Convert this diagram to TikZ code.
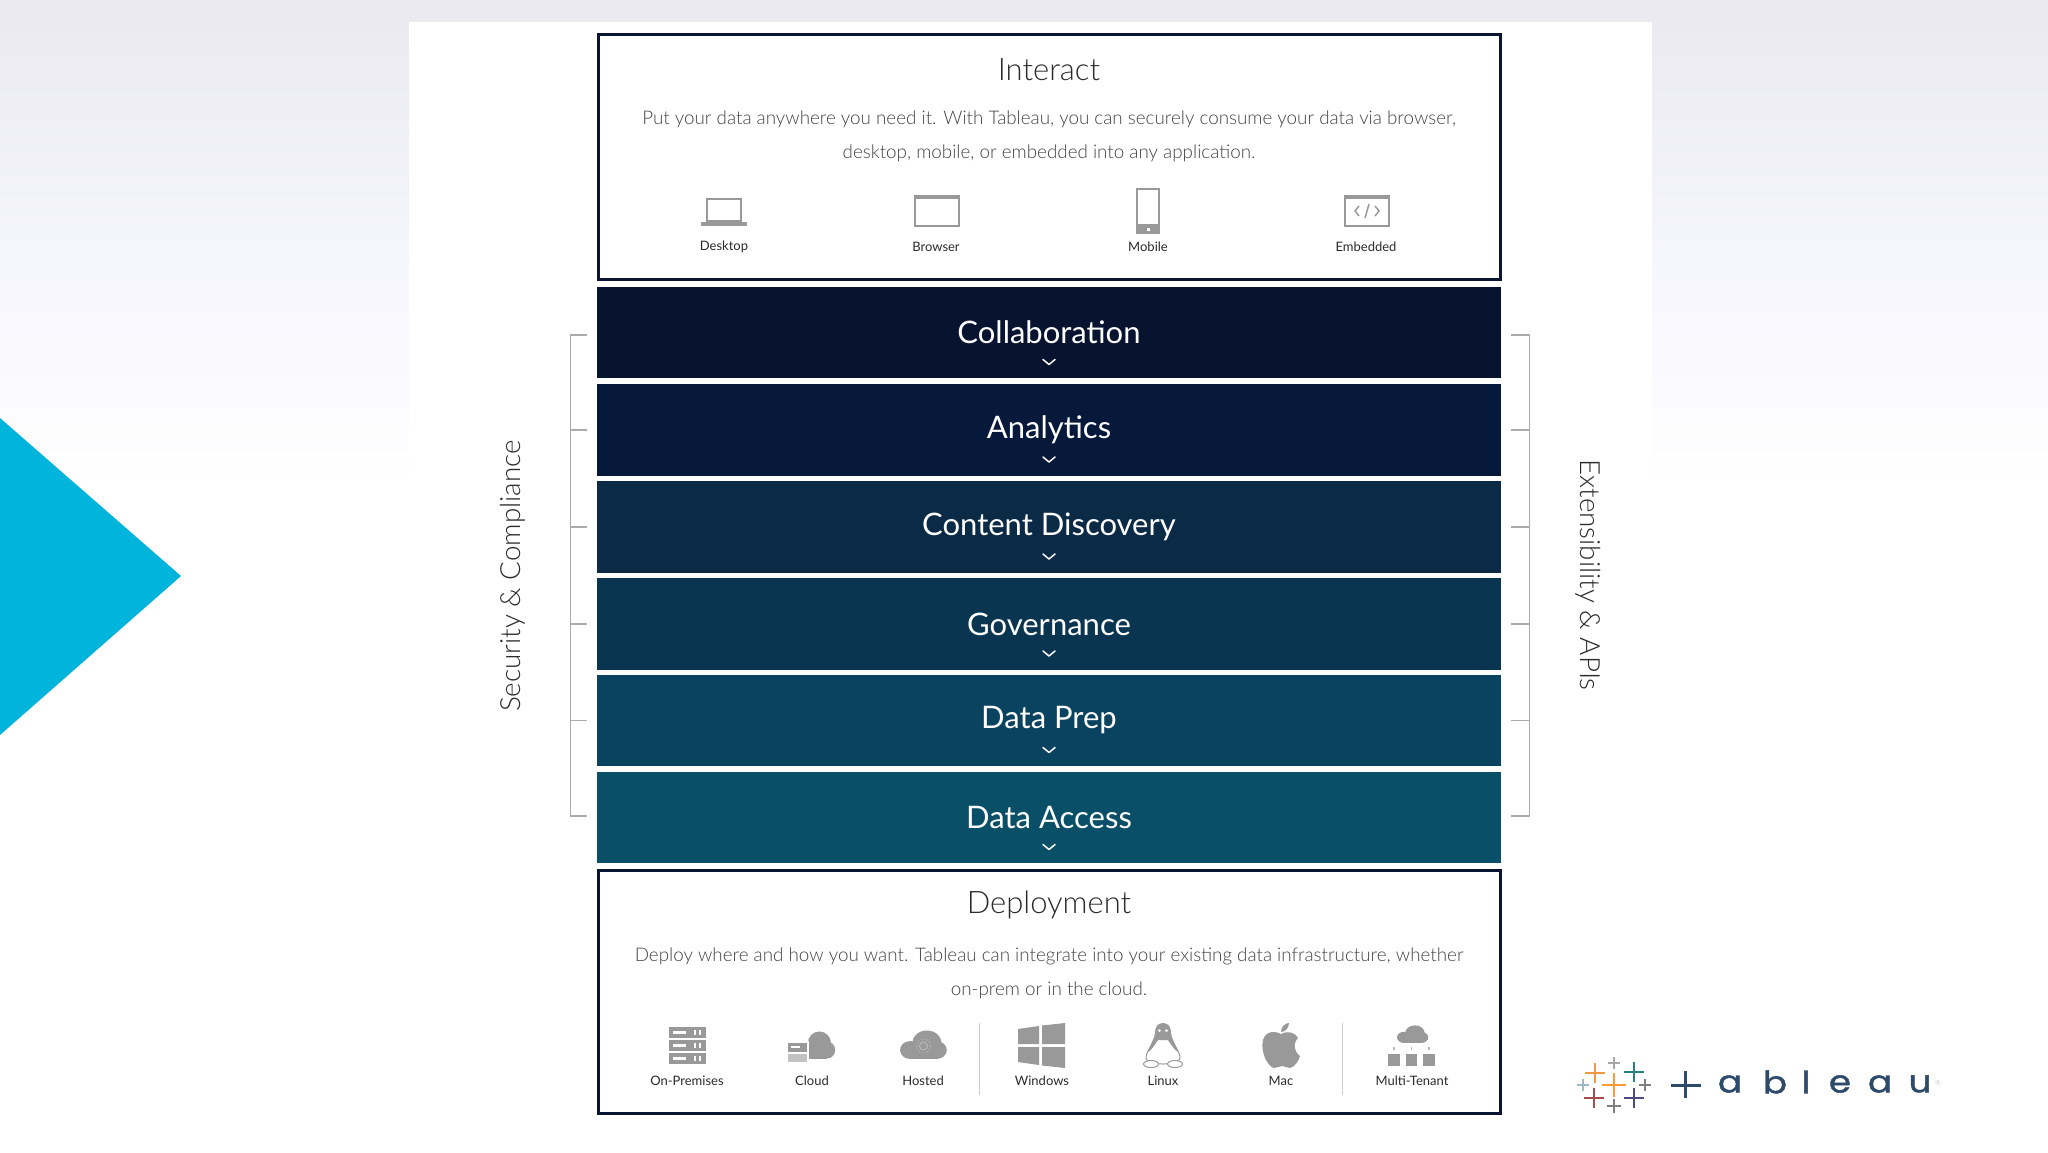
\documentclass[tikz,border=0pt]{standalone}
\usepackage{fontspec}
\setmainfont{Lato}[UprightFont=* Light]
\newfontfamily\latoreg{Lato}
\newfontfamily\logofont{Poppins}[FakeBold=1.2]
\usetikzlibrary{calc}
\definecolor{bgtop}{HTML}{E9E9EF}
\definecolor{bgmid}{HTML}{F6F6FD}
\definecolor{frame}{HTML}{0A1533}
\definecolor{icon}{HTML}{999999}
\definecolor{brk}{HTML}{ABABAB}
\definecolor{ink}{HTML}{2B2B2B}
\definecolor{para}{HTML}{444444}
\definecolor{cyanT}{HTML}{00B4DC}
\definecolor{logoink}{HTML}{2E4A6B}
\definecolor{cA}{HTML}{07132F}
\definecolor{cB}{HTML}{07193B}
\definecolor{cC}{HTML}{0A2A46}
\definecolor{cD}{HTML}{0A3550}
\definecolor{cE}{HTML}{0A435F}
\definecolor{cF}{HTML}{0A4F68}
\newcommand{\fs}[1]{\fontsize{#1}{#1}\selectfont}
\tikzset{
  x=1pt,y=-1pt,
  panelbox/.style={draw=frame,line width=3pt,fill=white,minimum width=902pt,inner sep=0pt},
  barbox/.style={minimum width=904pt,minimum height=91.5pt,inner sep=0pt,text=white,font={\latoreg\fs{31}}},
  chev/.style={draw=white,line width=1.5pt,line cap=round,line join=round},
  brack/.style={draw=brk,line width=1.2pt},
  paneltitle/.style={text=ink,font=\fs{31},inner sep=0pt},
  paragraph/.style={text=para,font=\fs{18.8},inner sep=0pt},
  iconlabel/.style={text=ink,font={\latoreg\fs{13}},inner sep=0pt},
  sidelabel/.style={text=ink,font=\fs{27.8},inner sep=0pt},
  ico/.style={draw=icon,line width=1.6pt,fill=white},
  logoletter/.style={text=logoink,inner sep=0pt,font={\logofont\fs{31}},xscale=1.15},
}
\newcommand{\cloudshape}{%
  \fill[icon] (23,13) circle (12.5);
  \fill[icon] (9,20) circle (9);
  \fill[icon] (31,20) circle (9);
  \fill[icon] (9,18) rectangle (31,29);
}
\newcommand{\plusmark}[4]{% x y half colour
  \draw[#4,line width=2.6pt] (#1-#3,#2) -- (#1+#3,#2) (#1,#2-#3) -- (#1,#2+#3);
}
\begin{document}
\begin{tikzpicture}
\useasboundingbox (0,0) rectangle (2048,1152);
% background
\fill[white] (0,0) rectangle (2048,1152);
\fill[top color=bgtop,bottom color=bgmid] (0,0) rectangle (2048,270);
\fill[top color=bgmid,bottom color=white] (0,270) rectangle (2048,490);
\fill[white] (409,22) rectangle (1652,1152);
\fill[cyanT] (0,418) -- (181,576) -- (0,735) -- cycle;

% interact
\node[panelbox,minimum height=245pt] (interact) at (1049,157) {};
\node[paneltitle] (interactT) at (1049,70) {Interact};
\node[paragraph] (interactP1) at (1049,119.5) {Put your data anywhere you need it. With Tableau, you can securely consume your data via browser,};
\node[paragraph] (interactP2) at (1049,153.5) {desktop, mobile, or embedded into any application.};
\node[iconlabel] (desktop) at (724,247) {Desktop};
\node[iconlabel] (browser) at (936,247) {Browser};
\node[iconlabel] (mobile) at (1148,247) {Mobile};
\node[iconlabel] (embedded) at (1366,247) {Embedded};
% desktop icon
\draw[ico] (707,199) rectangle (741,221);
\fill[icon] (701,222) rectangle (747,225.5);
% browser icon
\draw[ico] (915,196) rectangle (959,226);
\fill[icon] (914,195) rectangle (960,199);
% mobile icon
\draw[ico] (1137,189) rectangle (1159,233);
\fill[icon] (1136,224) rectangle (1160,234);
\fill[white] (1146.5,227.5) rectangle (1149.5,230.5);
% embedded icon
\draw[ico] (1345,196) rectangle (1389,226);
\fill[icon] (1344,195) rectangle (1390,199);
\draw[icon,line width=1.5pt] (1359,206) -- (1355,211) -- (1359,216) (1369,204) -- (1365,218) (1375,206) -- (1379,211) -- (1375,216);

% bars
\node[barbox,fill=cA] (collab) at (1049,332.5) {Collaboration};
\node[barbox,fill=cB] (analytics) at (1049,430) {Analytics};
\node[barbox,fill=cC] (content) at (1049,527) {Content Discovery};
\node[barbox,fill=cD] (gov) at (1049,624) {Governance};
\node[barbox,fill=cE] (prep) at (1049,720.5) {Data Prep};
\node[barbox,fill=cF] (access) at (1049,817.5) {Data Access};
\foreach \b in {collab,analytics,content,gov,prep,access}{
  \draw[chev] ([xshift=-6pt,yshift=-27pt]\b.center) -- ([yshift=-32pt]\b.center) -- ([xshift=6pt,yshift=-27pt]\b.center);
}

% brackets
\draw[brack] ([xshift=-10pt,yshift=-2.5pt]collab.west) -- ([xshift=-26pt,yshift=-2.5pt]collab.west) -- ([xshift=-26pt,yshift=1.5pt]access.west) -- ([xshift=-10pt,yshift=1.5pt]access.west);
\draw[brack] ([xshift=10pt,yshift=-2.5pt]collab.east) -- ([xshift=28pt,yshift=-2.5pt]collab.east) -- ([xshift=28pt,yshift=1.5pt]access.east) -- ([xshift=10pt,yshift=1.5pt]access.east);
\foreach \b in {analytics,content,gov,prep}{
  \draw[brack] ([xshift=-10pt]\b.west) -- ([xshift=-26pt]\b.west);
  \draw[brack] ([xshift=10pt]\b.east) -- ([xshift=28pt]\b.east);
}
\node[sidelabel,rotate=90] (security) at (513,576) {Security \& Compliance};
\node[sidelabel,rotate=-90] (extens) at (1588,575) {Extensibility \& APIs};

% deployment
\node[panelbox,minimum height=243pt] (deploy) at (1049,992) {};
\node[paneltitle] (deployT) at (1049,905) {Deployment};
\node[paragraph] (deployP1) at (1049,956) {Deploy where and how you want. Tableau can integrate into your existing data infrastructure, whether};
\node[paragraph] (deployP2) at (1049,990) {on-prem or in the cloud.};
\node[iconlabel] (onprem) at (687,1081) {On-Premises};
\node[iconlabel] (cloud) at (812,1081) {Cloud};
\node[iconlabel] (hosted) at (923,1081) {Hosted};
\node[iconlabel] (windows) at (1042,1081) {Windows};
\node[iconlabel] (linux) at (1163,1081) {Linux};
\node[iconlabel] (mac) at (1281,1081) {Mac};
\node[iconlabel] (multi) at (1412,1081) {Multi-Tenant};
\draw[brk!60,line width=1pt] (979,1023) -- (979,1095);
\draw[brk!60,line width=1pt] (1342,1023) -- (1342,1095);
% on-premises
\foreach \y in {1027,1040,1053}{
  \fill[icon] (669,\y) rectangle (706,\y+10.5);
  \fill[white] (673,\y+4) rectangle (686,\y+6.5);
  \fill[white] (694,\y+3) rectangle (696,\y+7.5);
  \fill[white] (699,\y+3) rectangle (701,\y+7.5);
}
% cloud
\begin{scope}[shift={(798,1031)},xscale=0.93,yscale=0.95]
\cloudshape
\end{scope}
\fill[white] (786,1041) rectangle (809,1064);
\fill[icon] (788,1043) rectangle (807,1052);
\fill[icon!60] (788,1053.5) rectangle (807,1062);
\fill[white] (791,1046) rectangle (800,1048);
% hosted
\begin{scope}[shift={(900,1030)},xscale=1.17,yscale=1]
\cloudshape
\end{scope}
\draw[icon!70,line width=1pt] (923.5,1046) circle (4);
\draw[icon!70,line width=1pt,dotted] (923.5,1046) circle (7);
% windows
\fill[icon] (1018,1029) -- (1039,1026) -- (1039,1044) -- (1018,1044) -- cycle;
\fill[icon] (1042,1025.5) -- (1065,1023) -- (1065,1044) -- (1042,1044) -- cycle;
\fill[icon] (1018,1047) -- (1039,1047) -- (1039,1065) -- (1018,1062) -- cycle;
\fill[icon] (1042,1047) -- (1065,1047) -- (1065,1068) -- (1042,1065.5) -- cycle;
% linux
\draw[icon,line width=1pt,fill=white] (1163,1036) .. controls (1152,1042) and (1146,1052) .. (1146,1058) .. controls (1146,1066) and (1180,1066) .. (1180,1058) .. controls (1180,1052) and (1174,1042) .. (1163,1036) -- cycle;
\fill[icon] (1163,1023) .. controls (1157,1023) and (1155,1028) .. (1155,1033) .. controls (1155,1038) and (1150,1044) .. (1148,1052) .. controls (1152,1050) and (1155,1044) .. (1158,1040) -- (1168,1040) .. controls (1171,1044) and (1174,1050) .. (1178,1052) .. controls (1176,1044) and (1171,1038) .. (1171,1033) .. controls (1171,1028) and (1169,1023) .. (1163,1023) -- cycle;
\fill[white] (1159.5,1030.5) circle (1.5);
\fill[white] (1166.5,1030.5) circle (1.5);
\draw[icon,line width=1pt,fill=white] (1151,1064) ellipse (7.5 and 3.5);
\draw[icon,line width=1pt,fill=white] (1175,1064) ellipse (7.5 and 3.5);
% mac
\fill[icon] (1281,1034) .. controls (1276,1031) and (1266,1030) .. (1263,1040) .. controls (1260,1052) and (1268,1067) .. (1274,1068) .. controls (1277,1068) and (1279,1066) .. (1282,1066) .. controls (1285,1066) and (1287,1068) .. (1290,1068) .. controls (1295,1067) and (1299,1060) .. (1300,1056) .. controls (1295,1053) and (1292,1044) .. (1298,1038) .. controls (1294,1031) and (1286,1031) .. (1281,1034) -- cycle;
\fill[icon] (1281,1032) .. controls (1281,1027) and (1285,1023) .. (1289,1023) .. controls (1289,1028) and (1285,1032) .. (1281,1032) -- cycle;
% multi-tenant
\begin{scope}[shift={(1397,1025)},xscale=0.78,yscale=0.62]
\cloudshape
\end{scope}
\foreach \x in {1388,1405.5,1423}{
  \fill[icon] (\x,1054) rectangle (\x+11.5,1066);
  \fill[icon!70] (\x+5,1047) rectangle (\x+6.5,1050);
}

% logo
\plusmark{1595}{1073}{10}{orange!70!brown!80}
\plusmark{1614}{1063}{6}{gray!70}
\plusmark{1634}{1072}{10}{teal!70!gray}
\plusmark{1583}{1085}{6}{cyan!30!gray!70}
\plusmark{1614}{1085}{12}{orange!80}
\plusmark{1645}{1085}{6}{gray}
\plusmark{1594}{1098}{10}{red!50!black!70}
\plusmark{1634}{1098}{10}{blue!30!black!70}
\plusmark{1614}{1106}{7}{gray}
\draw[logoink,line width=3pt] (1671,1085) -- (1701,1085) (1685,1071) -- (1685,1098);
\node[logoletter] (lga) at (1730,1084) {a};
\node[logoletter] (lgb) at (1775,1082) {b};
\node[logoletter] (lgl) at (1806,1082) {l};
\node[logoletter] (lge) at (1840,1084) {e};
\node[logoletter] (lga2) at (1880,1084) {a};
\node[logoletter] (lgu) at (1920,1084) {u};
\node[text=gray!60,inner sep=0pt,font=\fs{7}] (lgr) at (1938,1083) {®};
\end{tikzpicture}
\end{document}
